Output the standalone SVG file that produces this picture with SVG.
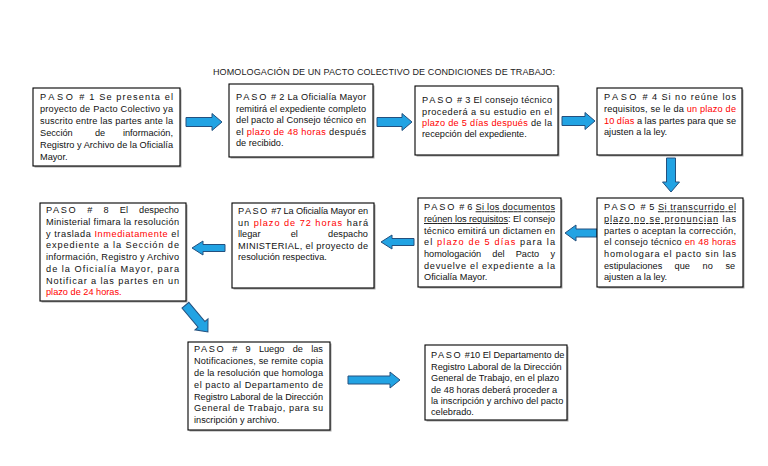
<svg xmlns="http://www.w3.org/2000/svg" width="768" height="466" viewBox="0 0 768 466">
<style>
.bx{fill:#fff;stroke:#000;stroke-width:1.1}
.sh{fill:#a6a6a6}
.t{font-family:"Liberation Sans",Arial,sans-serif;font-size:9.2px;fill:#111}
.r{fill:#ff0000}
.u{text-decoration:underline}
.p{letter-spacing:1.6px}
.ar{fill:#22a3e3;stroke:#24507e;stroke-width:1}
.ti{font-family:"Liberation Sans",Arial,sans-serif;font-size:9px;fill:#222}
</style>
<rect width="768" height="466" fill="#fff"/>
<text id="title" class="ti" x="213" y="75" textLength="342" lengthAdjust="spacing">HOMOLOGACIÓN DE UN PACTO COLECTIVO DE CONDICIONES DE TRABAJO:</text>

<g id="connectors">
<path class="ar" d="M186,117.5 L212,117.5 L212,113.5 L222,122 L212,130.5 L212,126.5 L186,126.5 Z"/>
<path class="ar" d="M377,117.5 L402,117.5 L402,113.5 L412,122 L402,130.5 L402,126.5 L377,126.5 Z"/>
<path class="ar" d="M562,116.5 L585,116.5 L585,112.5 L595,121 L585,129.5 L585,125.5 L562,125.5 Z"/>
<path class="ar" d="M666.5,158 L675.5,158 L675.5,182 L679.5,182 L671,192 L662.5,182 L666.5,182 Z"/>
<path class="ar" d="M597,229 L576,229 L576,225 L565,233 L576,241 L576,237 L597,237 Z"/>
<path class="ar" d="M414,238.5 L392,238.5 L392,235 L381,242 L392,249 L392,245.5 L414,245.5 Z"/>
<path class="ar" d="M225,244.5 L203,244.5 L203,241 L192,248 L203,255 L203,251.5 L225,251.5 Z"/>
<path class="ar" transform="translate(197,319) rotate(50)" d="M-18,-4.5 L7,-4.5 L7,-8.5 L17,0 L7,8.5 L7,4.5 L-18,4.5 Z"/>
<path class="ar" d="M348,376 L390,376 L390,372 L400,380 L390,388 L390,384 L348,384 Z"/>
</g>

<g id="paso1">
<rect class="sh" x="34.5" y="89.5" width="147" height="78"/>
<rect class="bx" x="33" y="88" width="147" height="78"/>
<text class="t" x="40" y="99.5" textLength="133" lengthAdjust="spacing"><tspan class="p">PASO</tspan> # 1 Se presenta el</text>
<text class="t" x="40" y="111.5" textLength="133" lengthAdjust="spacing">proyecto de Pacto Colectivo ya</text>
<text class="t" x="40" y="123.5" textLength="133" lengthAdjust="spacing">suscrito entre las partes ante la</text>
<text class="t" y="135.5"><tspan x="40">Sección</tspan><tspan x="95">de</tspan><tspan x="122.9">información,</tspan></text>
<text class="t" x="40" y="147.5" textLength="133" lengthAdjust="spacing">Registro y Archivo de la Oficialía</text>
<text class="t" x="40" y="159.5">Mayor.</text>
</g>

<g id="paso2">
<rect class="sh" x="230.5" y="85.5" width="144" height="73"/>
<rect class="bx" x="229" y="84" width="144" height="73"/>
<text class="t" x="236" y="100" textLength="130" lengthAdjust="spacing"><tspan class="p">PASO</tspan> # 2 La Oficialía Mayor</text>
<text class="t" x="236" y="111.5" textLength="130" lengthAdjust="spacing">remitirá el expediente completo</text>
<text class="t" x="236" y="123" textLength="130" lengthAdjust="spacing">del pacto al Consejo técnico en</text>
<text class="t" x="236" y="134.5" textLength="130" lengthAdjust="spacing">el <tspan class="r">plazo de 48 horas</tspan> después</text>
<text class="t" x="236" y="146">de recibido.</text>
</g>

<g id="paso3">
<rect class="sh" x="416.5" y="87.5" width="143" height="69"/>
<rect class="bx" x="415" y="86" width="143" height="69"/>
<text class="t" x="422" y="103.3" textLength="130" lengthAdjust="spacing"><tspan class="p">PASO</tspan> # 3 El consejo técnico</text>
<text class="t" x="422" y="114.6" textLength="130" lengthAdjust="spacing">procederá a su estudio en el</text>
<text class="t" x="422" y="126" textLength="130" lengthAdjust="spacing"><tspan class="r">plazo de 5 días después</tspan> de la</text>
<text class="t" x="422" y="137.3">recepción del expediente.</text>
</g>

<g id="paso4">
<rect class="sh" x="598.5" y="89.5" width="145" height="67"/>
<rect class="bx" x="597" y="88" width="145" height="67"/>
<text class="t" x="604" y="100.3" textLength="132" lengthAdjust="spacing"><tspan class="p">PASO</tspan> # 4 Si no reúne los</text>
<text class="t" x="604" y="112" textLength="132" lengthAdjust="spacing">requisitos, se le da <tspan class="r">un plazo de</tspan></text>
<text class="t" x="604" y="123.7" textLength="132" lengthAdjust="spacing"><tspan class="r">10 días</tspan> a las partes para que se</text>
<text class="t" x="604" y="135.4">ajusten a la ley.</text>
</g>

<g id="paso5">
<rect class="sh" x="598.5" y="199.5" width="146" height="89"/>
<rect class="bx" x="597" y="198" width="146" height="89"/>
<text class="t" x="604" y="210.3" textLength="132" lengthAdjust="spacing"><tspan class="p">PASO</tspan> # 5 <tspan class="u">Si transcurrido el</tspan></text>
<text class="t" x="604" y="222" textLength="132" lengthAdjust="spacing"><tspan class="u">plazo no se pronuncian</tspan> las</text>
<text class="t" x="604" y="233.6" textLength="132" lengthAdjust="spacing">partes o aceptan la corrección,</text>
<text class="t" x="604" y="245.3" textLength="132" lengthAdjust="spacing">el consejo técnico <tspan class="r">en 48 horas</tspan></text>
<text class="t" x="604" y="257" textLength="132" lengthAdjust="spacing">homologara el pacto sin las</text>
<text class="t" y="268.6"><tspan x="604">estipulaciones</tspan><tspan x="674.6">que</tspan><tspan x="702.6">no</tspan><tspan x="725.4">se</tspan></text>
<text class="t" x="604" y="280.3">ajusten a la ley.</text>
</g>

<g id="paso6">
<rect class="sh" x="419.5" y="199.5" width="143" height="89"/>
<rect class="bx" x="418" y="198" width="143" height="89"/>
<text class="t" x="424" y="210.3" textLength="131" lengthAdjust="spacing"><tspan class="p">PASO</tspan> # 6 <tspan class="u">Si los documentos</tspan></text>
<text class="t" x="424" y="222" textLength="131" lengthAdjust="spacing"><tspan class="u">reúnen los requisitos</tspan>: El consejo</text>
<text class="t" x="424" y="233.6" textLength="131" lengthAdjust="spacing">técnico emitirá un dictamen en</text>
<text class="t" x="424" y="245.3" textLength="131" lengthAdjust="spacing">el <tspan class="r">plazo de 5 días</tspan> para la</text>
<text class="t" y="257"><tspan x="424">homologación</tspan><tspan x="492.3">del</tspan><tspan x="515.7">Pacto</tspan><tspan x="550.4">y</tspan></text>
<text class="t" x="424" y="268.6" textLength="131" lengthAdjust="spacing">devuelve el expediente a la</text>
<text class="t" x="424" y="280.3">Oficialía Mayor.</text>
</g>

<g id="paso7">
<rect class="sh" x="233.5" y="204.5" width="142" height="85"/>
<rect class="bx" x="232" y="203" width="142" height="85"/>
<text class="t" x="238" y="214.3" textLength="130" lengthAdjust="spacing"><tspan class="p">PASO</tspan> #7 La Oficialía Mayor en</text>
<text class="t" x="238" y="225.8" textLength="130" lengthAdjust="spacing">un <tspan class="r">plazo de 72 horas</tspan> hará</text>
<text class="t" y="237.3"><tspan x="238">llegar</tspan><tspan x="290.7">el</tspan><tspan x="328.1">despacho</tspan></text>
<text class="t" x="238" y="248.8" textLength="130" lengthAdjust="spacing">MINISTERIAL, el proyecto de</text>
<text class="t" x="238" y="260.3">resolución respectiva.</text>
</g>

<g id="paso8">
<rect class="sh" x="41.5" y="204.5" width="146" height="98"/>
<rect class="bx" x="40" y="203" width="146" height="98"/>
<text class="t" y="213.3"><tspan x="46" class="p">PASO</tspan><tspan x="87.2">#</tspan><tspan x="103.5">8</tspan><tspan x="119.8">El</tspan><tspan x="139.1">despecho</tspan></text>
<text class="t" x="46" y="225" textLength="133" lengthAdjust="spacing">Ministerial fimara la resolución</text>
<text class="t" x="46" y="236.7" textLength="133" lengthAdjust="spacing">y traslada <tspan class="r">Inmediatamente</tspan> el</text>
<text class="t" x="46" y="248.4" textLength="133" lengthAdjust="spacing">expediente a la Sección de</text>
<text class="t" x="46" y="260.1" textLength="133" lengthAdjust="spacing">información, Registro y Archivo</text>
<text class="t" x="46" y="271.8" textLength="133" lengthAdjust="spacing">de la Oficialía Mayor, para</text>
<text class="t" x="46" y="283.5" textLength="133" lengthAdjust="spacing">Notificar a las partes en un</text>
<text class="t" x="46" y="295.2"><tspan class="r">plazo de 24 horas.</tspan></text>
</g>

<g id="paso9">
<rect class="sh" x="189.5" y="343.5" width="142" height="88"/>
<rect class="bx" x="188" y="342" width="142" height="88"/>
<text class="t" y="352.3"><tspan x="194" class="p">PASO</tspan><tspan x="232.3">#</tspan><tspan x="245.6">9</tspan><tspan x="258.9">Luego</tspan><tspan x="292.7">de</tspan><tspan x="311.2">las</tspan></text>
<text class="t" x="194" y="364.1" textLength="129" lengthAdjust="spacing">Notificaciones, se remite copia</text>
<text class="t" x="194" y="375.9" textLength="129" lengthAdjust="spacing">de la resolución que homologa</text>
<text class="t" x="194" y="387.7" textLength="129" lengthAdjust="spacing">el pacto al Departamento de</text>
<text class="t" x="194" y="399.5" textLength="129" lengthAdjust="spacing">Registro Laboral de la Dirección</text>
<text class="t" x="194" y="411.3" textLength="129" lengthAdjust="spacing">General de Trabajo, para su</text>
<text class="t" x="194" y="423.1">inscripción y archivo.</text>
</g>

<g id="paso10">
<rect class="sh" x="426.5" y="346.5" width="142" height="75"/>
<rect class="bx" x="425" y="345" width="142" height="75"/>
<text class="t" x="431" y="358.3"><tspan class="p">PASO</tspan> #10 El Departamento de</text>
<text class="t" x="431" y="369.7">Registro Laboral de la Dirección</text>
<text class="t" x="431" y="381.1">General de Trabajo, en el plazo</text>
<text class="t" x="431" y="392.5">de 48 horas deberá proceder a</text>
<text class="t" x="431" y="403.9">la inscripción y archivo del pacto</text>
<text class="t" x="431" y="415.3">celebrado.</text>
</g>
</svg>
